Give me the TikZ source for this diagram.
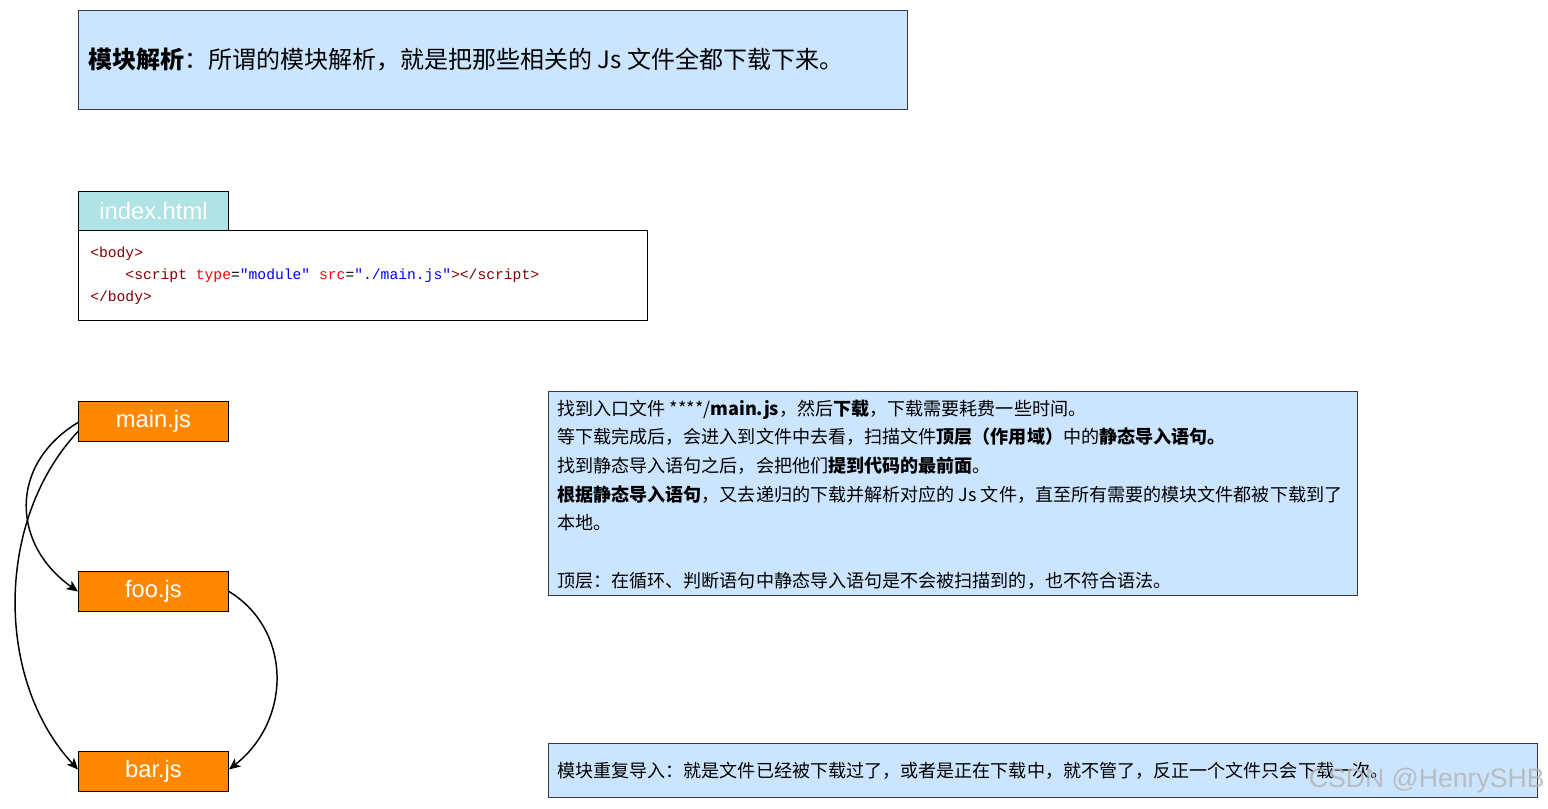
\documentclass[tikz,border=0pt]{standalone}
\usepackage{fontspec}
\setmainfont{Liberation Sans}
\setmonofont{Liberation Mono}
\newfontfamily\cjk{Noto Sans CJK SC}
\usetikzlibrary{arrows.meta}
\definecolor{lblue}{HTML}{CCE5FF}
\definecolor{bord}{HTML}{36393D}
\definecolor{tabc}{HTML}{B0E3E6}
\definecolor{orng}{HTML}{FF8800}
\definecolor{tagc}{HTML}{800000}
\definecolor{attc}{HTML}{FF0000}
\definecolor{valc}{HTML}{0000FF}
\tikzset{
  notebox/.style={draw=bord, fill=lblue, line width=0.75pt},
  filebox/.style={draw=black, fill=orng, line width=0.75pt, minimum width=112.5pt, minimum height=30pt, inner sep=0pt, text=white, font=\fontsize{17.8}{20}\selectfont},
  link/.style={-{Stealth[length=8.5pt,width=7.5pt,inset=2.2pt]}, line width=1.1pt},
  cjktext/.style={font=\cjk\fontsize{13.55}{21.5}\selectfont, align=left, inner sep=0pt, anchor=west},
}
\begin{document}
\begin{tikzpicture}[x=0.75pt,y=-0.75pt]
\path[use as bounding box] (0,0) rectangle (1548,809);
% top box
\draw[notebox] (78,11) rectangle (907,110);
\node[cjktext, font=\cjk\fontsize{18}{21}\selectfont] (title) at (88,60) {\textbf{模块解析}：所谓的模块解析，就是把那些相关的 Js 文件全都下载下来。};
% index.html tab and code
\node[draw=black, fill=tabc, line width=0.75pt, minimum width=112.5pt, minimum height=30pt, inner sep=0pt, anchor=north west, text=white, font=\fontsize{17.8}{20}\selectfont] (tab) at (78,191) {index.html};
\draw[line width=0.75pt, fill=white] (78,231) rectangle (647,320);
\node[anchor=west, inner sep=0pt, align=left, font=\ttfamily\fontsize{11}{16.5}\selectfont] (code) at (90,276) {%
\textcolor{tagc}{<body>}\\
\textcolor{tagc}{\ \ \ \ <script} \textcolor{attc}{type}=\textcolor{valc}{"module"} \textcolor{attc}{src}=\textcolor{valc}{"./main.js"}\textcolor{tagc}{></script>}\\
\textcolor{tagc}{</body>}};
% file nodes
\node[filebox, anchor=north west] (main) at (78,401) {main.js};
\node[filebox, anchor=north west] (foo) at (78,571) {foo.js};
\node[filebox, anchor=north west] (bar) at (78,751) {bar.js};
\coordinate (mainA) at ([yshift=-0.75pt]main.west);
\coordinate (mainB) at ([yshift=-7.5pt]main.west);
\draw[link] (mainA) .. controls (8,465) and (12,545) .. (foo.west);
\draw[link] (mainB) .. controls (-5,520) and (-5,680) .. ([yshift=1.5pt]bar.west);
\draw[link] (foo.east) .. controls (292,630) and (292,720) .. ([yshift=1.5pt]bar.east);
% info box
\draw[notebox] (548,391) rectangle (1357,595);
\node[cjktext] (info) at (557,494.5) {%
找到入口文件 ****/\textbf{main.js}，然后\textbf{下载}，下载需要耗费一些时间。\\
等下载完成后，会进入到文件中去看，扫描文件\textbf{顶层（作用域）}中的\textbf{静态导入语句。}\\
找到静态导入语句之后，会把他们\textbf{提到代码的最前面}。\\
\textbf{根据静态导入语句}，又去递归的下载并解析对应的 Js 文件，直至所有需要的模块文件都被下载到了\\
本地。\\
\mbox{}\\
顶层：在循环、判断语句中静态导入语句是不会被扫描到的，也不符合语法。};
% bottom box
\draw[notebox] (548,743) rectangle (1537,797);
\node[cjktext] (dup) at (557,771) {模块重复导入：就是文件已经被下载过了，或者是正在下载中，就不管了，反正一个文件只会下载一次。};
% watermark
\node[anchor=east, inner sep=0pt, text=gray!60, opacity=0.8, font=\fontsize{20}{24}\selectfont] (wm) at (1545,781) {CSDN @HenrySHB};
\end{tikzpicture}
\end{document}
